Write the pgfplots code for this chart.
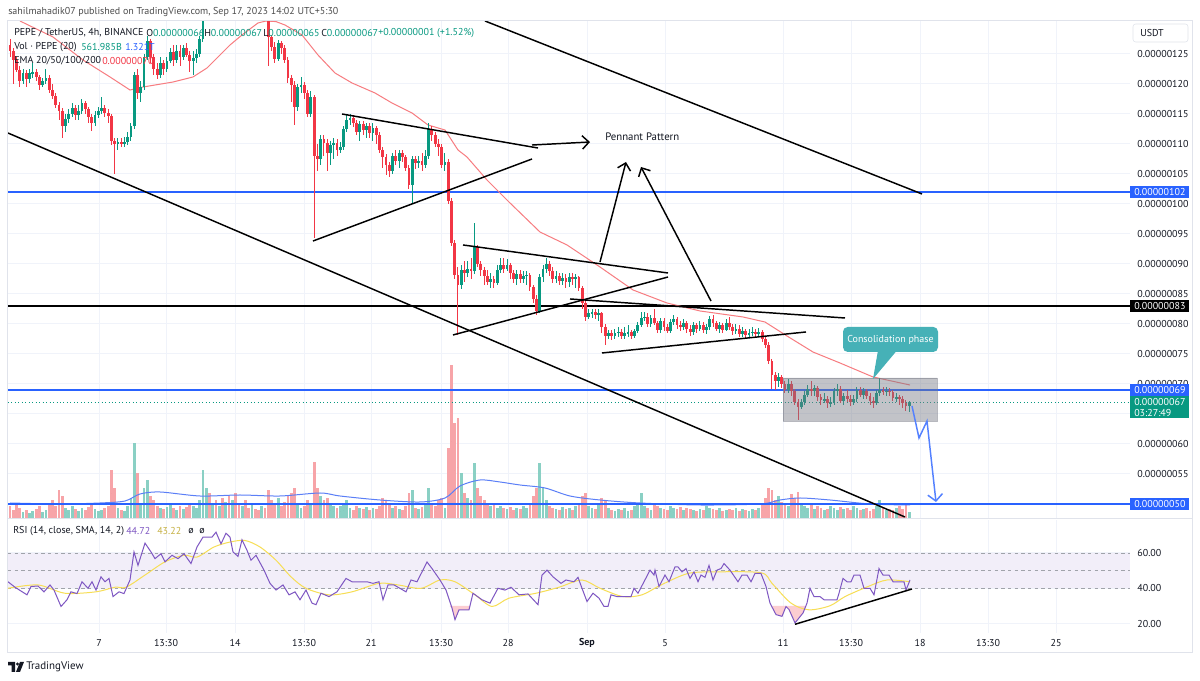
\documentclass[border=0pt]{standalone}
\usepackage{fontspec}
\setmainfont{PT Sans}
\usepackage{pgfplots}
\usepackage{pgfplotstable}
\pgfplotsset{compat=1.18}
\usetikzlibrary{arrows.meta}
\definecolor{tvtext}{HTML}{131722}
\definecolor{tvgrey}{HTML}{787B86}
\definecolor{tvgrid}{HTML}{F0F3FA}
\definecolor{tvframe}{HTML}{E0E3EB}
\definecolor{tvgreen}{HTML}{089981}
\definecolor{tvred}{HTML}{F23645}
\definecolor{tvblue}{HTML}{2962FF}
\definecolor{volgreen}{HTML}{8AD0C4}
\definecolor{volred}{HTML}{F7A4A8}
\definecolor{emared}{HTML}{F77C80}
\definecolor{volma}{HTML}{5B7FF7}
\definecolor{rsipurple}{HTML}{7E57C2}
\definecolor{rsiyellow}{HTML}{F7DE55}
\definecolor{rsiband}{HTML}{F2EEF9}
\definecolor{callout}{HTML}{46B1B7}
\newcommand\tvf{\fontsize{7.5pt}{9pt}\selectfont}
\pgfplotsset{nomark/.style={only marks, mark=*, mark size=0pt, mark options={draw=none, fill=none}}}
\pgfplotstableread{
i o h l c v
0 126.5 127.5 124.5 125.5 12
1 125.5 126 120 124 8
2 124 124.5 122 122.3 15
3 122.3 123 119.5 120.5 10
4 120.5 122.5 120 121.8 6
5 121.8 122.3 119.5 120.8 8
6 120.8 122.5 120.2 121.8 5
7 121.8 123.5 121 122 7
8 122 122.5 120.5 121.2 9
9 121.2 121.5 119 119.8 12
10 119.8 121 119.5 120.5 6
11 120.5 122.5 120 121 8
12 121 121.5 118.5 119 14
13 119 120 117.5 118 18
14 118 118.5 116 116.5 12
15 116.5 117 114 115.5 28
16 115.5 116 111 113 22
17 113 115 112 114.2 10
18 114.2 115.8 113.5 115 8
19 115 116.8 114.5 116 12
20 116 116.5 114 114.8 9
21 114.8 116.5 114 115.5 7
22 115.5 117.5 115 116.8 10
23 116.8 117.2 115 115.8 8
24 115.8 116.2 113.5 114.5 11
25 114.5 115 112.2 113.5 14
26 113.5 115.5 113 114.8 9
27 114.8 116.2 114.3 115.5 7
28 115.5 117.8 115 116 8
29 116 116.5 114.5 115.2 10
30 115.2 115.8 113.5 114.6 12
31 114.6 115 109.8 110.5 48
32 110.5 111 105 110 30
33 110 111 109 110.3 10
34 110.3 111 109.5 110 8
35 110 111.2 109.5 110.3 7
36 110.3 112 109.8 111.2 12
37 111.2 113.5 110.5 113 20
38 113 122 112.5 121.5 75
39 121.5 122.5 117.5 118.5 45
40 118.5 120.5 117 119.5 15
41 119.5 125 119 124.5 30
42 124.5 128 124 127.2 38
43 127.2 127.5 123.5 124.5 22
44 124.5 125 121.5 122.5 18
45 122.5 123.5 120.8 121.5 12
46 121.5 124.5 121 123.5 10
47 123.5 124 121.5 122.5 9
48 122.5 124.5 122 123.8 11
49 123.8 126 123.5 125.3 14
50 125.3 126.5 123 124 10
51 124 126.5 123.5 125.5 8
52 125.5 126.5 123 124.5 12
53 124.5 126.5 124 126 9
54 126 126.8 124.5 124.8 11
55 124.8 125.5 122 123.8 15
56 123.8 125.5 121.5 124.3 12
57 124.3 125.8 123.5 125 10
58 125 128 124.5 127.5 18
59 127.5 133 127 132 48
60 132 135 131.5 134 30
61 134 135.5 132 133 25
62 133 137 132.5 136 14
63 136 137 134 135 18
64 135 138.5 134.5 137.5 12
65 137.5 138.5 135.5 136.5 20
66 136.5 139.5 136 138 16
67 138 139 135.5 137 22
68 137 140.5 136.5 139 18
69 139 140 136.5 138 25
70 138 139 135.5 136.5 15
71 136.5 138.5 135.5 137.5 12
72 137.5 138 134.5 136 18
73 136 136.5 133.5 134.5 10
74 134.5 136.5 133.5 135.5 14
75 135.5 136 133 134 9
76 134 134.5 132 133 8
77 133 134.5 132 133.5 12
78 133.5 134 131.5 132 10
79 132 133 123 127.8 28
80 127.8 128.2 125.5 126.2 18
81 126.2 127 123.5 124.2 15
82 124.2 127.3 123.8 126.8 20
83 126.8 127.2 125 126 12
84 126 126.5 123.5 124 16
85 124 124.5 120.2 121 22
86 121 121.5 117 119.8 25
87 119.8 120.5 113.2 116.2 30
88 116.2 120 115.5 119.5 14
89 119.5 121.2 118.5 119.8 10
90 119.8 120.3 117.5 118.5 12
91 118.5 119 114.5 115 18
92 115 118.8 114.5 117.8 15
93 117.8 118.2 94.3 108 56
94 108 110 105.5 107.5 30
95 107.5 111.5 106.5 110.8 22
96 110.8 111.5 108 110.2 18
97 110.2 110.8 105.5 108.5 20
98 108.5 110.5 106.5 109.8 14
99 109.8 111 107.5 110.2 12
100 110.2 110.8 108 109 10
101 109 110.3 108.5 109.5 12
102 109.5 113 109 112.5 15
103 112.5 114.8 112 114 18
104 114 115 113.2 114.3 10
105 114.3 114.8 112.8 113.5 8
106 113.5 114 111.5 112 12
107 112 113.8 110.5 113.3 10
108 113.3 113.8 111.5 112.3 9
109 112.3 113.5 111 113 11
110 113 113.5 111 111.8 8
111 111.8 113.5 110.5 112.7 10
112 112.7 113 110 111.5 9
113 111.5 112 108.5 109 12
114 109 109.5 106 107.8 20
115 107.8 108.3 104.8 106.5 18
116 106.5 107 104.5 105.5 15
117 105.5 108.5 105 108 10
118 108 109 106.5 107.2 12
119 107.2 109 106 108.5 9
120 108.5 109 107 107.8 8
121 107.8 108.2 105.5 106 12
122 106 106.5 102.5 103.2 25
123 103.2 108 100.2 107.5 28
124 107.5 108 105.8 106.8 10
125 106.8 108 106 107.2 9
126 107.2 108.5 105.5 106.5 11
127 106.5 109 106 108 14
128 108 113.5 107.5 112.5 30
129 112.5 113 110.5 111.5 15
130 111.5 112 109.5 110 12
131 110 110.8 108 109.5 18
132 109.5 110 106 106.5 20
133 106.5 108.5 105.5 107 10
134 107 107.5 100 100.5 70
135 100.5 101 93 93.5 153
136 93.5 94 87.5 88.2 95
137 88.2 89.5 78.2 86.5 100
138 86.5 89.8 85.8 89 45
139 89 90.5 87 88.5 25
140 88.5 90.5 87.8 89.2 20
141 89.2 91 87.5 88.8 18
142 88.8 96.8 88.3 92.8 55
143 92.8 93.2 89.5 90 30
144 90 90.5 88 89 22
145 89 89.5 86.5 88 18
146 88 89 86.5 87 15
147 87 88.5 86 87.5 12
148 87.5 88 86 86.8 14
149 86.8 89.8 86.5 89 10
150 89 91 88.5 89.8 12
151 89.8 91 88.5 89.2 10
152 89.2 90.8 88.8 89.8 9
153 89.8 90.2 87.5 88.5 11
154 88.5 89 86.8 87.5 8
155 87.5 89 86.5 88.3 10
156 88.3 89 86.8 87.5 9
157 87.5 88.8 86.8 88 12
158 88 88.8 86.5 88.2 10
159 88.2 88.5 85.5 86.2 15
160 86.2 86.5 83.5 84.2 22
161 84.2 84.8 81.5 82.2 30
162 82.2 88.3 81.8 87.8 55
163 87.8 89.8 87 89.2 30
164 89.2 91 88.5 90 18
165 90 90.5 88 88.8 12
166 88.8 89.5 86.8 87.5 10
167 87.5 88.8 86.8 88 9
168 88 88.5 86.5 87.2 8
169 87.2 88.5 86.5 87.7 11
170 87.7 88.3 86 87 9
171 87 88.5 86.2 87.8 10
172 87.8 88.5 86.5 87.5 8
173 87.5 88.3 86 87.8 12
174 87.8 88 85.5 86 14
175 86 86.3 82.5 83.5 22
176 83.5 84 80.5 81.2 25
177 81.2 82.5 80.8 81.8 12
178 81.8 82.5 81 82 10
179 82 82.5 80.8 81.5 9
180 81.5 82.5 80.5 81.8 14
181 81.8 82 78.5 79.5 20
182 79.5 80 76.5 78 18
183 78 79 77.5 78.5 10
184 78.5 79 77.3 78 8
185 78 79.2 77.5 78.5 7
186 78.5 79.5 77.8 78.7 9
187 78.7 79.2 77.5 78 8
188 78 79.5 77.5 78.5 10
189 78.5 79.8 77.8 78.6 7
190 78.6 79 77.5 78 8
191 78 79.2 77.6 78.8 12
192 78.8 80.3 78.5 79.8 15
193 79.8 82 79.5 81 25
194 81 82 80.5 81.2 12
195 81.2 81.8 79.5 80 10
196 80 81.5 79.5 81 8
197 81 82.5 79.8 80.2 14
198 80.2 80.5 78.5 79 12
199 79 81 78.5 80.5 10
200 80.5 81 78.8 79.5 9
201 79.5 80 78.5 78.8 8
202 78.8 80.8 78.5 80.3 12
203 80.3 81.5 79.8 80.8 10
204 80.8 81.2 79.2 79.8 9
205 79.8 80.5 78.8 79.5 11
206 79.5 80.8 79 80.2 8
207 80.2 80.5 78.5 79.2 10
208 79.2 79.8 78 78.6 9
209 78.6 80.3 78.2 79.8 8
210 79.8 80.2 78.5 79.2 7
211 79.2 80.5 78.8 79.8 9
212 79.8 80.3 78.5 79 8
213 79 80 78.3 79.5 12
214 79.5 81.3 79 80.8 10
215 80.8 81.5 79.5 80.2 9
216 80.2 80.5 78.8 79.2 8
217 79.2 80.3 78.5 79.8 10
218 79.8 80.2 78.5 79 7
219 79 80.8 78.8 80.2 8
220 80.2 81.2 79 79.5 9
221 79.5 80 78.2 78.8 8
222 78.8 80 78.3 79.2 10
223 79.2 79.8 77.8 78.3 7
224 78.3 79.5 77.8 78.8 9
225 78.8 79.2 77.5 78.2 8
226 78.2 79.2 77.8 78.5 7
227 78.5 79.5 78 78.7 9
228 78.7 79.2 77.8 78.3 8
229 78.3 79.3 77.9 78.6 10
230 78.6 79 77 77.5 14
231 77.5 77.8 76 76.5 20
232 76.5 77 73.3 73.8 30
233 73.8 74.2 69.2 71.5 28
234 71.5 72 69 70.5 18
235 70.5 71.8 69.5 71.2 22
236 71.2 71.5 69.3 70 16
237 70 70.5 68.5 69 14
238 69 70.8 68.5 70 12
239 70 70.5 68 68.8 24
240 68.8 69.2 66.5 67 20
241 67 67.5 64 66.2 26
242 66.2 67.5 65.8 67 15
243 67 68.8 66.5 68.2 12
244 68.2 69.8 67.8 69.2 10
245 69.2 70.5 68 68.8 14
246 68.8 69.8 68 69.3 9
247 69.3 69.6 67.2 67.8 12
248 67.8 68.3 66.5 67.3 10
249 67.3 68.5 66.8 67.5 8
250 67.5 68 66 66.8 9
251 66.8 67.8 66.2 67 12
252 67 69.3 66.5 68.8 10
253 68.8 70 68 69.2 8
254 69.2 69.6 66.8 67.2 11
255 67.2 68.5 66.5 68 9
256 68 69 67 67.5 10
257 67.5 68.2 66.3 67 8
258 67 68.2 66.5 67.5 12
259 67.5 69.5 67 69 10
260 69 69.5 67.8 68.2 8
261 68.2 69.3 67.5 68.8 9
262 68.8 69.2 67.5 68 10
263 68 68.5 66.5 67.2 7
264 67.2 67.8 66 66.8 9
265 66.8 69 66.5 68.5 12
266 68.5 71 68 69 18
267 69 69.5 68.2 68.7 10
268 68.7 69.5 68 68.9 8
269 68.9 69.3 68 68.6 9
270 68.6 69 67.2 67.6 8
271 67.6 68.5 67 67.8 10
272 67.8 68.2 66.5 67.5 12
273 67.5 68 66 66.8 9
274 66.8 67.3 65.5 66.3 14
275 66.3 67.2 65.3 67 6
}\candles
\begin{document}
\begin{tikzpicture}
\fill[white] (0,0) rectangle (900pt,510.75pt);
\path[use as bounding box] (0,0) rectangle (900pt,510.75pt);
% ---------------- price pane ----------------
\begin{axis}[
  at={(6pt,122.25pt)}, anchor=south west, scale only axis,
  width=841.5pt, height=372.75pt,
  xmin=8, xmax=1130, ymin=47.6667, ymax=130.5,
  axis line style={draw=none},
  xtick={99,166,235,304,371,441,508,587,665,783,851,920,988,1056},
  xticklabels={},
  ytick={55,60,...,125},
  yticklabels={0.00000055,0.00000060,{},0.00000070,0.00000075,0.00000080,0.00000085,0.00000090,0.00000095,0.00000100,0.00000105,0.00000110,0.00000115,0.00000120,0.00000125},
  yticklabel pos=right,
  yticklabel style={anchor=west, font=\tvf, text=tvtext, xshift=2pt},
  major tick length=0pt,
  grid=major, major grid style={draw=tvgrid, line width=0.75pt},
  clip mode=individual,
]
% volume bars
\addplot[nomark, restrict expr to domain={\thisrow{c}-\thisrow{o}}{0:1000},
  error bars/.cd, y dir=both, y explicit, error mark=none, error bar style={draw=volgreen, line width=2.1pt}]
  table[x expr={10+3.27*\thisrow{i}}, y expr={47.6667+\thisrow{v}/12}, y error expr={\thisrow{v}/12}]{\candles};
\addplot[nomark, restrict expr to domain={\thisrow{o}-\thisrow{c}}{0.001:1000},
  error bars/.cd, y dir=both, y explicit, error mark=none, error bar style={draw=volred, line width=2.1pt}]
  table[x expr={10+3.27*\thisrow{i}}, y expr={47.6667+\thisrow{v}/12}, y error expr={\thisrow{v}/12}]{\candles};
% volume MA
\addplot[volma, line width=0.75pt, smooth] table[x=x, y expr={47.6667+\thisrow{h}/6}, row sep=\\]{
x h\\ 10 15\\ 60 14\\ 100 15\\ 125 17\\ 140 24\\ 160 26\\ 200 22\\ 240 23\\ 280 22\\ 320 25\\ 340 22\\ 380 18\\ 420 16\\ 445 20\\ 460 32\\ 480 38\\ 500 36\\ 520 33\\ 545 30\\ 570 22\\ 600 18\\ 640 15\\ 700 13\\ 760 14\\ 780 18\\ 800 20\\ 830 18\\ 870 14\\ 910 13\\};
% horizontal levels
\addplot[tvblue, line width=0.9pt] coordinates {(8,102) (1130,102)};
\addplot[black, line width=1pt] coordinates {(8,83) (1130,83)};
\addplot[tvblue, line width=0.9pt] coordinates {(8,69) (1130,69)};
\addplot[tvblue, line width=0.9pt] coordinates {(8,50) (1130,50)};
\addplot[tvgreen, line width=0.6pt, dotted] coordinates {(8,67) (1130,67)};
% EMA
\addplot[emared, line width=0.75pt] coordinates {
(20,130.5)(53,127.83)(83,124.0)(110,121.17)(130,119.0)(143,119.5)(173,120.33)(193,121.17)(207,122.67)(230,126.5)(242,128.17)(258,130.17)(266,130.5)(276,130.4)(285,129.83)(302,128.17)(318,124.83)(335,121.83)(352,120.17)(375,118.5)(392,116.83)(412,115.17)(428,113.17)(445,112.33)(458,109.0)(467,107.83)(487,104.0)(510,100.17)(540,95.33)(567,93.17)(600,89.5)(633,85.67)(667,83.5)(700,82.17)(743,81.17)(765,80.33)(787,78.0)(813,75.33)(840,73.5)(873,71.17)(910,69.83)};
% candle wicks and bodies
\addplot[nomark, restrict expr to domain={\thisrow{c}-\thisrow{o}}{0:1000},
  error bars/.cd, y dir=both, y explicit, error mark=none, error bar style={draw=tvgreen, line width=0.75pt}]
  table[x expr={10+3.27*\thisrow{i}}, y expr={(\thisrow{h}+\thisrow{l})/2}, y error expr={(\thisrow{h}-\thisrow{l})/2}]{\candles};
\addplot[nomark, restrict expr to domain={\thisrow{o}-\thisrow{c}}{0.001:1000},
  error bars/.cd, y dir=both, y explicit, error mark=none, error bar style={draw=tvred, line width=0.75pt}]
  table[x expr={10+3.27*\thisrow{i}}, y expr={(\thisrow{h}+\thisrow{l})/2}, y error expr={(\thisrow{h}-\thisrow{l})/2}]{\candles};
\addplot[nomark, restrict expr to domain={\thisrow{c}-\thisrow{o}}{0:1000},
  error bars/.cd, y dir=both, y explicit, error mark=none, error bar style={draw=tvgreen, line width=2.1pt}]
  table[x expr={10+3.27*\thisrow{i}}, y expr={(\thisrow{o}+\thisrow{c})/2}, y error expr={(\thisrow{c}-\thisrow{o})/2}]{\candles};
\addplot[nomark, restrict expr to domain={\thisrow{o}-\thisrow{c}}{0.001:1000},
  error bars/.cd, y dir=both, y explicit, error mark=none, error bar style={draw=tvred, line width=2.1pt}]
  table[x expr={10+3.27*\thisrow{i}}, y expr={(\thisrow{o}+\thisrow{c})/2}, y error expr={(\thisrow{o}-\thisrow{c})/2}]{\candles};
% trend lines
\addplot[black, line width=1.1pt] coordinates {(8,111.83) (905,47.83)};
\addplot[black, line width=1.1pt] coordinates {(485,130.5) (922,101.67)};
\addplot[black, line width=1.1pt] coordinates {(342,115.0) (538,109.33)};
\addplot[black, line width=1.1pt] coordinates {(313,93.83) (532,107.5)};
\addplot[black, line width=1.1pt, -{Straight Barb[length=5pt,width=10pt]}] coordinates {(532,109.83) (590,110.33)};
\addplot[black, line width=1.1pt] coordinates {(463,93.17) (668,88.5)};
\addplot[black, line width=1.1pt] coordinates {(453,78.17) (668,87.83)};
\addplot[black, line width=1.1pt, -{Straight Barb[length=5pt,width=10pt]}] coordinates {(600,90.33) (626,107.0)};
\addplot[black, line width=1.1pt, -{Straight Barb[length=5pt,width=10pt]}] coordinates {(711,83.83) (641,106.17)};
\addplot[black, line width=1.1pt] coordinates {(570,84.17) (845,81.0)};
\addplot[black, line width=1.1pt] coordinates {(602,75.17) (806,78.67)};
% consolidation box
\addplot[fill=tvgrey, fill opacity=0.45, draw=tvgrey, draw opacity=0.5] coordinates {(783,71.0) (937,71.0) (937,63.83) (783,63.83) (783,71.0)};
% projected path
\addplot[tvblue!80!white, line width=1.1pt, -{Straight Barb[length=5pt,width=11pt]}] coordinates {(912,66.33) (919,61.0) (927,63.83) (936,50.33)};
% callout
\addplot[fill=callout, draw=none] coordinates {(878,75.6) (897,75.6) (873,70.83)};
\node[fill=callout, rounded corners=3.5pt, text=white, minimum width=71.25pt, minimum height=18.75pt, inner sep=0pt, font=\fontsize{7.5pt}{9pt}\selectfont] at (axis cs:890.5,77.42) {Consolidation phase};
\node[anchor=west, inner sep=0pt, text=tvtext, font=\fontsize{8.1pt}{9pt}\selectfont] at (axis cs:605,111.17) {Pennant Pattern};
\end{axis}
% ---------------- RSI pane ----------------
\begin{axis}[
  at={(6pt,36pt)}, anchor=south west, scale only axis,
  width=841.5pt, height=84.75pt,
  xmin=8, xmax=1130, ymin=14.67, ymax=78.7,
  axis line style={draw=none},
  xtick={99,166,235,304,371,441,508,587,665,783,851,920,988,1056},
  xticklabels={7,13:30,14,13:30,21,13:30,28,\textbf{Sep},5,11,13:30,18,13:30,25},
  xticklabel style={font=\tvf, text=tvtext, anchor=center, yshift=-7.5pt},
  ytick={20,40,60},
  yticklabels={20.00,40.00,60.00},
  yticklabel pos=right,
  yticklabel style={anchor=west, font=\tvf, text=tvtext, xshift=2pt},
  major tick length=0pt,
  grid=major, major grid style={draw=tvgrid, line width=0.75pt},
  clip mode=individual,
]
\addplot[draw=none, fill=rsiband] coordinates {(8,40) (1130,40) (1130,60) (8,60)};
\addplot[tvgrey!70!white, line width=0.6pt, dash pattern=on 2.5pt off 2.5pt] coordinates {(8,60) (1130,60)};
\addplot[tvgrey!70!white, line width=0.6pt, dash pattern=on 2.5pt off 2.5pt] coordinates {(8,50) (1130,50)};
\addplot[tvgrey!70!white, line width=0.6pt, dash pattern=on 2.5pt off 2.5pt] coordinates {(8,40) (1130,40)};
\addplot[draw=none, fill=tvred!25!white] coordinates {(449.5,30)(452,28.8)(455,22.2)(459,27.8)(469,27.8)(470.2,30)};
\addplot[draw=none, fill=tvred!25!white] coordinates {(771.5,30)(776,25.1)(782,24.1)(786,29.7)(789,28)(795,20.4)(799,23.2)(803,26)(805.6,30)};
\addplot[rsiyellow, line width=0.75pt, smooth] coordinates {
(8,40)(38,41.9)(65,37.2)(96,38)(115,40.6)(126,40.6)(145,47.5)(165,55)(184,58.7)(197,57.7)(214,63.4)(230,66.2)(245,67.1)(260,63.4)(276,55.9)(291,46.5)(306,40)(329,36.3)(352,38)(379,42.8)(398,41.9)(421,40)(440,44.7)(455,43.7)(475,36.3)(492,29.7)(509,34.4)(536,37.2)(559,40.6)(582,44.7)(600,40)(623,35.3)(642,36.3)(661,41.9)(688,48.4)(715,49.3)(761,48.8)(772,42.8)(791,31.6)(809,27.8)(830,30.1)(845,35.3)(868,41)(887,44.7)(910,43.7)};
\addplot[rsipurple, line width=0.75pt] coordinates {
(8,43.7)(15,40.6)(27,36.3)(31,41)(38,41.3)(44,38)(50,41.9)(54,39)(61,29.7)(67,33.5)(71,38)(77,37)(82,43.7)(88,40)(92,43.7)(96,39)(101,46.5)(105,43.7)(109,45.6)(113,35.3)(119,38)(124,37)(130,44.7)(134,60.6)(138,53)(145,65.6)(151,60.6)(155,56.8)(161,59.6)(165,55)(172,58.7)(178,56.8)(184,59.6)(191,54)(197,63.4)(203,69)(212,69)(216,71.8)(221,65.2)(226,71.2)(230,69)(233,60.6)(238,58.1)(242,67.5)(247,61.5)(251,55.9)(256,58.7)(264,50.3)(270,42.8)(276,39)(283,41.9)(289,36.3)(295,38)(300,33.5)(306,39)(312,31.6)(316,30.7)(321,37.2)(329,35.3)(337,38)(346,45.6)(352,43.7)(362,43.7)(367,43.7)(373,42.8)(379,43.7)(383,33.5)(388,41.9)(394,41.9)(406,38)(411,44.7)(417,43.7)(427,54.9)(432,51.2)(440,44.7)(446,39)(452,28.8)(455,22.2)(459,27.8)(469,27.8)(473,37.2)(482,33.5)(490,31.6)(498,40)(505,39)(511,40.6)(519,36.3)(528,36.8)(538,30.7)(542,47.5)(547,50.3)(553,46.5)(561,42.8)(566,44.7)(574,43.7)(578,46.2)(582,40)(587,32.5)(593,37.2)(599,34.4)(604,29.7)(608,29.7)(611,36.3)(617,35.3)(631,35.3)(634,40)(638,37.2)(644,43.7)(650,50.3)(654,47.5)(655,50.3)(659,41)(665,47.5)(669,43.7)(675,52.1)(678,52.1)(682,49.3)(686,51.2)(690,45.6)(694,49.3)(698,43.7)(701,47.5)(705,46.2)(709,53)(713,44.7)(717,50.3)(721,51.2)(724,54)(730,50.3)(738,43.7)(742,47.5)(747,47.5)(751,43.7)(755,48.4)(761,48.4)(766,41)(770,31.6)(776,25.1)(782,24.1)(786,29.7)(789,28)(795,20.4)(799,23.2)(803,26)(807,31.6)(810,40)(814,35.3)(820,35.3)(824,33.5)(832,33.5)(837,33.5)(839,37.2)(843,45.6)(847,43.7)(851,43.7)(854,47.5)(860,47.5)(864,40)(870,40)(874,36.3)(879,51.2)(883,47.5)(889,47.5)(893,43.7)(899,43.7)(904,43.7)(906,39)(910,44.7)};
\addplot[black, line width=1.1pt] coordinates {(795,19.6) (912,39.6)};
\end{axis}
% ---------------- overlay in pixel coordinates ----------------
\begin{scope}[x=0.75pt, y=-0.75pt, shift={(0pt,510.75pt)}]
\draw[tvframe, line width=0.75pt] (7,21) rectangle (1192,653);
\draw[tvframe, line width=0.75pt] (7,519) -- (1192,519);
% price labels boxes
\node[fill=tvblue, text=white, anchor=west, inner xsep=3pt, inner ysep=1.6pt, font=\tvf] at (1130,192) {0.00000102};
\node[fill=black, text=white, anchor=west, inner xsep=3pt, inner ysep=1.6pt, font=\tvf] at (1130,306) {0.00000083};
\node[fill=tvblue, text=white, anchor=west, inner xsep=3pt, inner ysep=1.6pt, font=\tvf] at (1130,390) {0.00000069};
\node[fill=tvgreen, text=white, anchor=north west, inner xsep=3pt, inner ysep=1.6pt, align=left, font=\tvf] at (1130,396) {0.00000067\\[-1pt]03:27:49};
\node[fill=tvblue, text=white, anchor=west, inner xsep=3pt, inner ysep=1.6pt, font=\tvf] at (1130,504) {0.00000050};
% USDT box
\draw[tvframe, rounded corners=2pt, fill=white] (1133,24) rectangle (1188,42);
\node[anchor=west, inner sep=0pt, text=tvtext, font=\tvf] at (1140,33) {USDT};
% header
\node[anchor=west, inner sep=0pt, text=black!70, font=\tvf] at (8,12) {sahilmahadik07 published on TradingView.com, Sep 17, 2023 14:02 UTC+5:30};
% legends
\node[anchor=west, inner sep=0pt, text=tvtext, font=\tvf] at (14,33) {PEPE / TetherUS, 4h, BINANCE};
\node[anchor=west, inner sep=0pt, font=\tvf] at (146,33) {\textcolor{tvtext}{O}\textcolor{tvgreen}{0.00000066}};
\node[anchor=west, inner sep=0pt, font=\tvf] at (204,33) {\textcolor{tvtext}{H}\textcolor{tvgreen}{0.00000067}};
\node[anchor=west, inner sep=0pt, font=\tvf] at (263,33) {\textcolor{tvtext}{L}\textcolor{tvgreen}{0.00000065}};
\node[anchor=west, inner sep=0pt, font=\tvf] at (321,33) {\textcolor{tvtext}{C}\textcolor{tvgreen}{0.00000067}};
\node[anchor=west, inner sep=0pt, text=tvgreen, font=\tvf] at (378,33) {+0.00000001 (+1.52\%)};
\node[anchor=west, inner sep=0pt, text=tvtext, font=\tvf] at (14,47) {Vol · PEPE (20)};
\node[anchor=west, inner sep=0pt, text=tvgreen, font=\tvf] at (81,47) {561.985B};
\node[anchor=west, inner sep=0pt, text=tvblue, font=\tvf] at (125,47) {1.321T};
\node[anchor=west, inner sep=0pt, text=tvtext, font=\tvf] at (14,61) {EMA 20/50/100/200};
\node[anchor=west, inner sep=0pt, text=tvred, font=\tvf] at (102,61) {0.00000070};
\node[anchor=west, inner sep=0pt, text=tvtext, font=\tvf] at (13,531) {RSI (14, close, SMA, 14, 2)};
\node[anchor=west, inner sep=0pt, text=rsipurple, font=\tvf] at (126,531) {44.72};
\node[anchor=west, inner sep=0pt, text=rsiyellow!80!black, font=\tvf] at (157,531) {43.22};
\node[anchor=west, inner sep=0pt, text=tvtext, font=\tvf] at (188,531) {ø};
\node[anchor=west, inner sep=0pt, text=tvtext, font=\tvf] at (199,531) {ø};
% TradingView logo
\fill[tvtext] (8,662) -- (15,662) -- (15,672) -- (11.5,672) -- (11.5,665.5) -- (8,665.5) -- cycle;
\fill[tvtext] (17.5,664) circle (1.7);
\fill[tvtext] (20,662) -- (24,662) -- (20,672) -- (16,672) -- cycle;
\node[anchor=west, inner sep=0pt, text=tvtext, font=\fontsize{8.2pt}{9pt}\selectfont] at (26,667) {TradingView};
\end{scope}
\end{tikzpicture}
\end{document}
